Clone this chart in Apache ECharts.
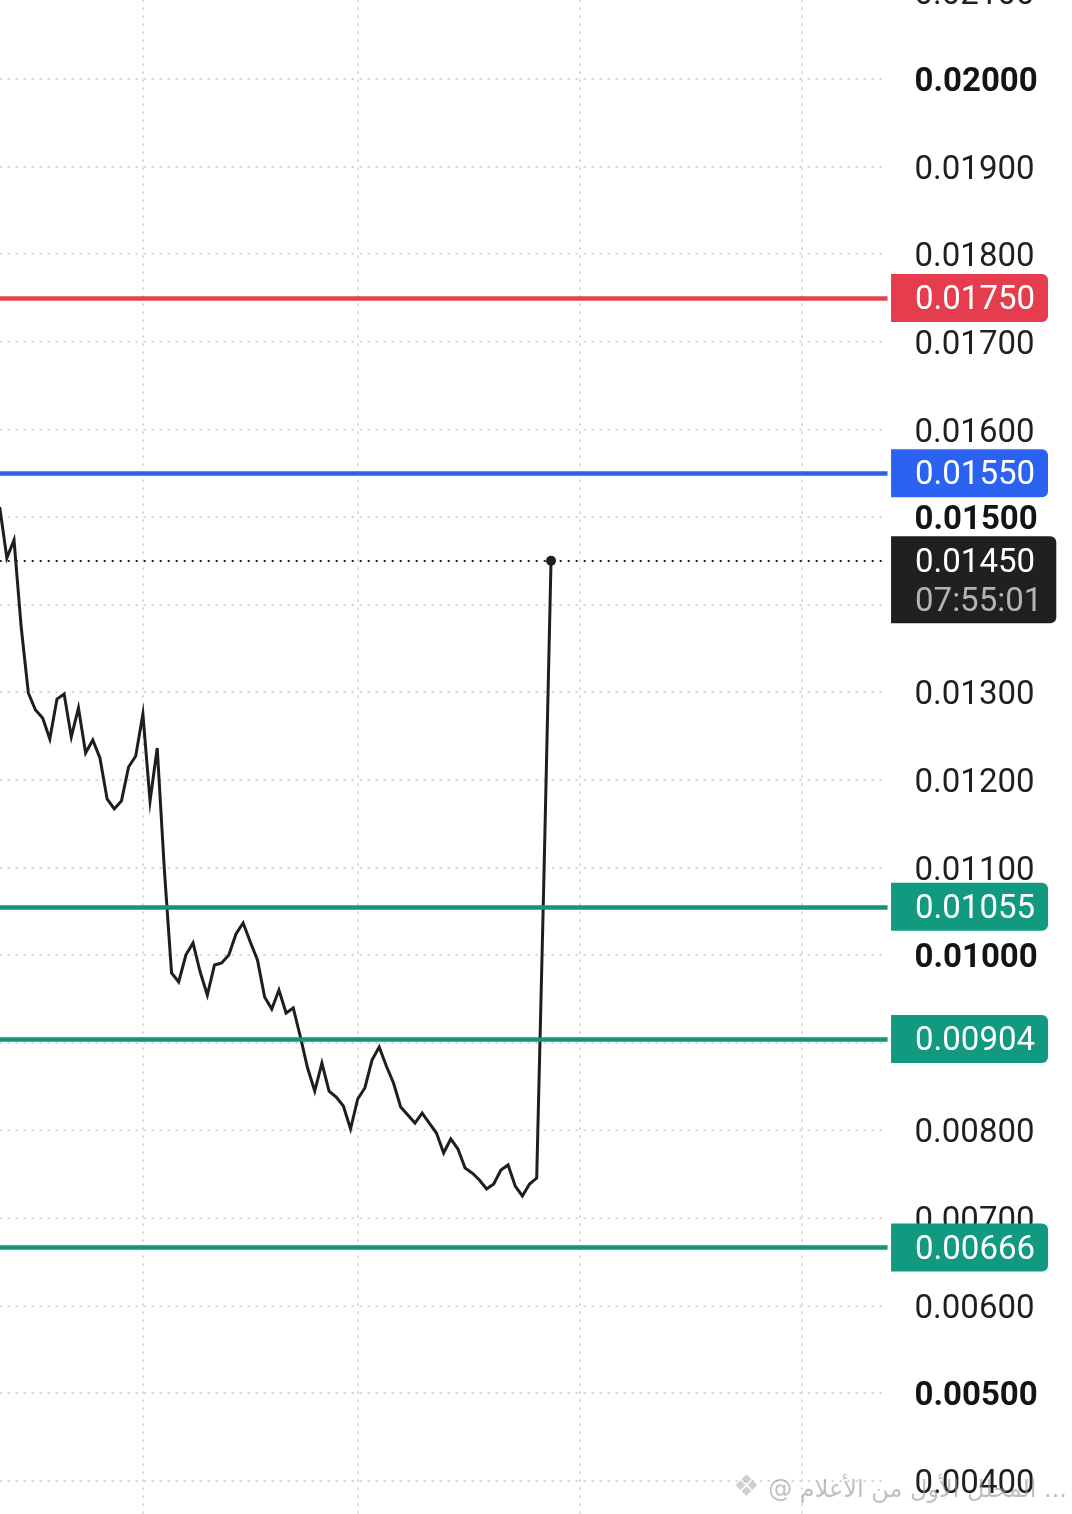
<!DOCTYPE html>
<html>
<head>
<meta charset="utf-8">
<style>html,body{margin:0;padding:0;background:#fff}#c{width:1072px;height:1514px}</style>
<script src="https://cdn.jsdelivr.net/npm/echarts@6/dist/echarts.min.js"></script>
</head>
<body>
<div id="c"></div>
<script>
const priceValues = [
0.015114,0.014532,0.014737,0.013744,0.012991,0.012797,0.012705,0.012466,0.012922,0.012979,
0.012489,0.012820,0.012306,0.012454,0.012249,0.011781,0.011667,0.011758,0.012146,0.012272,
0.012751,0.011758,0.012363,0.010970,0.009795,0.009692,0.010000,0.010137,0.009806,0.009543,
0.009886,0.009909,0.010000,0.010240,0.010365,0.010148,0.009943,0.009521,0.009384,0.009600,
0.009338,0.009395,0.009064,0.008710,0.008447,0.008767,0.008447,0.008379,0.008276,0.008014,
0.008356,0.008482,0.008801,0.008950,0.008733,0.008539,0.008265,0.008174,0.008082,0.008196,
0.008082,0.007968,0.007740,0.007900,0.007785,0.007569,0.007511,0.007432,0.007329,0.007386,
0.007546,0.007603,0.007363,0.007249,0.007386,0.007454,0.010856,0.014500
];
const barCount = 125;
const monthStartBars = [20, 50, 81, 112];
const boldTicks = ['0.02000', '0.01500', '0.01000', '0.00500'];
const lastPrice = 0.0145;
const countdown = '07:55:01';
const levelValues = [0.0175, 0.0155, 0.01055, 0.00904, 0.00666];
const levelTagColors = ['#e63d4e', '#2b62f2', '#119a80', '#119a80', '#119a80'];
const levelLineColors = ['#e0444f', '#2b62e8', '#17927c', '#17927c', '#17927c'];
const watermarkText = '@ المحلل الأول من الأعلام ...';

const categories = Array.from({length: barCount}, (_, i) => String(i));
const FONT = 'Roboto';

const chart = echarts.init(document.getElementById('c'), null, {renderer: 'canvas', width: 1072, height: 1514});
chart.setOption({
  animation: false,
  backgroundColor: '#ffffff',
  grid: {left: -0.3, top: -8.6, width: 887.84, height: 1576.8, containLabel: false, outerBoundsMode: 'none'},
  xAxis: {
    type: 'category',
    data: categories,
    boundaryGap: false,
    axisLine: {show: false},
    axisTick: {show: false},
    axisLabel: {show: false},
    splitLine: {
      show: true,
      interval: (i) => monthStartBars.includes(i),
      lineStyle: {color: '#d4d4d4', width: 2, type: [2, 6]}
    }
  },
  yAxis: {
    type: 'value',
    position: 'right',
    min: 0.003,
    max: 0.021,
    interval: 0.001,
    axisLine: {show: false},
    axisTick: {show: false},
    splitLine: {show: true, lineStyle: {color: '#d4d4d4', width: 2, type: [2, 6]}},
    axisLabel: {
      show: true,
      inside: false,
      margin: 27,
      padding: [8, 0, 0, 0],
      showMinLabel: true,
      showMaxLabel: true,
      hideOverlap: false,
      formatter: (v) => {
        const s = v.toFixed(5);
        return boldTicks.includes(s) ? '{b|' + s + '}' : '{n|' + s + '}';
      },
      rich: {
        n: {fontFamily: FONT, fontSize: 33, color: '#1f1f1f'},
        b: {fontFamily: FONT, fontSize: 33, fontWeight: 'bold', color: '#141414'}
      }
    }
  },
  series: [
    {
      name: 'levels',
      type: 'line',
      z: 2,
      data: [],
      symbol: 'none',
      markLine: {
        silent: true,
        symbol: 'none',
        animation: false,
        precision: 6,
        data: levelValues.map((v, i) => ({
          yAxis: v,
          lineStyle: {color: levelLineColors[i], width: 4.5, type: 'solid'},
          label: {
            show: true,
            position: 'end',
            distance: 3.5,
            formatter: '{a|' + v.toFixed(5) + '}',
            backgroundColor: levelTagColors[i],
            padding: [10, 13, 4, 24],
            borderRadius: [0, 6, 6, 0],
            rich: {a: {fontFamily: FONT, fontSize: 33, lineHeight: 34, color: '#ffffff'}}
          }
        }))
      }
    },
    {
      name: 'last',
      type: 'line',
      z: 3,
      data: [],
      symbol: 'none',
      markLine: {
        silent: true,
        symbol: 'none',
        animation: false,
        precision: 6,
        data: [{
          yAxis: lastPrice,
          lineStyle: {color: '#222222', width: 2, type: [2, 6]},
          label: {
            show: true,
            position: 'end',
            distance: 3.5,
            offset: [0, 19],
            formatter: lastPrice.toFixed(5) + '\n{t|' + countdown + '}',
            fontFamily: FONT,
            fontSize: 33,
            lineHeight: 39,
            color: '#ffffff',
            backgroundColor: '#202020',
            padding: [8, 14, 1, 24],
            borderRadius: [0, 6, 6, 0],
            rich: {t: {fontFamily: FONT, fontSize: 33, lineHeight: 39, color: '#b4b4b4'}}
          }
        }]
      }
    },
    {
      name: 'price',
      type: 'line',
      z: 4,
      data: priceValues,
      symbol: 'none',
      smooth: false,
      lineStyle: {color: '#1e1e1e', width: 3, join: 'miter'},
      markPoint: {
        silent: true,
        animation: false,
        precision: 6,
        symbol: 'circle',
        symbolSize: 10,
        itemStyle: {color: '#1e1e1e'},
        label: {show: false},
        data: [{xAxis: String(priceValues.length - 1), yAxis: lastPrice}]
      }
    }
  ],
  graphic: [
    {
      type: 'text',
      right: 5,
      top: 1479,
      z: 100,
      style: {
        text: watermarkText,
        fontFamily: '"DejaVu Sans"',
        fontSize: 24,
        fill: 'rgba(150,150,150,0.6)'
      }
    },
    {
      type: 'text',
      left: 733,
      top: 1473,
      z: 100,
      style: {
        text: '❖',
        fontFamily: '"DejaVu Sans"',
        fontSize: 30,
        fill: 'rgba(150,150,150,0.45)'
      }
    }
  ]
});
</script>
</body>
</html>
